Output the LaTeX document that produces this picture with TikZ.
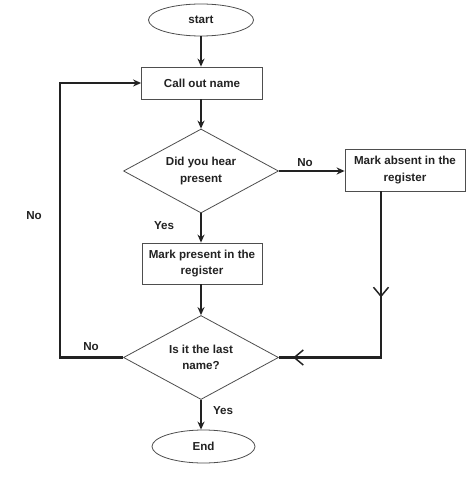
\documentclass[tikz,border=0pt]{standalone}
\usepackage{fontspec}
\setmainfont{Liberation Sans}
\usetikzlibrary{shapes.geometric,arrows.meta,decorations.markings}
\definecolor{ink}{HTML}{222222}
\begin{document}
\begin{tikzpicture}[x=1pt,y=-1pt,
  every node/.style={font=\fontsize{11.6pt}{16.5pt}\selectfont\bfseries, text=ink},
  term/.style={ellipse, draw=ink!80, line width=0.8pt, minimum width=105pt, minimum height=32pt, inner sep=0pt},
  proc/.style={rectangle, draw=ink!80, line width=0.8pt, minimum width=121pt, minimum height=32pt, align=center, inner sep=2pt},
  decide/.style={diamond, draw=ink!80, line width=0.8pt, minimum width=155pt, minimum height=84pt, aspect=1.85, align=center, inner sep=0pt},
  flow/.style={line width=2.2pt, draw=ink, -{Stealth[length=8pt,width=7pt]}},
  loopline/.style={line width=2.2pt, draw=ink},
  lbl/.style={inner sep=0pt}
]
\useasboundingbox (0,0) rectangle (474,481);
\fill[white] (0,0) rectangle (474,481);

\node[term] (start) at (201,20) {start};
\node[proc] (call) at (202,83) {Call out name};
\node[decide] (d1) at (201,171) {Did you hear\\present};
\node[proc, minimum width=120pt, minimum height=42pt] (absent) at (405,170) {Mark absent in the\\register};
\node[proc, minimum width=120pt, minimum height=41pt] (present) at (202,263.5) {Mark present in the\\register};
\node[decide] (d2) at (201,357.5) {Is it the last\\name?};
\node[term, minimum width=103pt, minimum height=33pt] (endn) at (203.5,446.5) {End};

\draw[flow] (start.south) -- (start.south |- call.north);
\draw[flow] (call.south -| d1.north) -- (d1.north);
\draw[flow] (d1.east) -- (absent.west |- d1.east);
\draw[flow] (d1.south) -- (d1.south |- present.north);
\draw[flow] (present.south -| d2.north) -- (d2.north);
\draw[flow] (d2.south) -- (d2.south |- endn.north);

\coordinate (absentout) at ([xshift=-24pt]absent.south);
\draw[loopline, postaction={decorate}, decoration={markings,
   mark=at position 106pt with {\arrow[line width=1.5pt]{Straight Barb[length=9pt,width=15pt]}},
   mark=at position 254pt with {\arrow[line width=1.5pt]{Straight Barb[length=9pt,width=15pt]}}}]
  (absentout) |- (d2.east);

\coordinate (leftcorner) at (60,357.5);
\draw[flow] (d2.west) -- (leftcorner) |- (call.west);

\node[lbl] (no1) at (305,163) {No};
\node[lbl] (yes1) at (164,226) {Yes};
\node[lbl] (no2) at (91,347) {No};
\node[lbl] (no3) at (34,216) {No};
\node[lbl] (yes2) at (223,411) {Yes};
\end{tikzpicture}
\end{document}
